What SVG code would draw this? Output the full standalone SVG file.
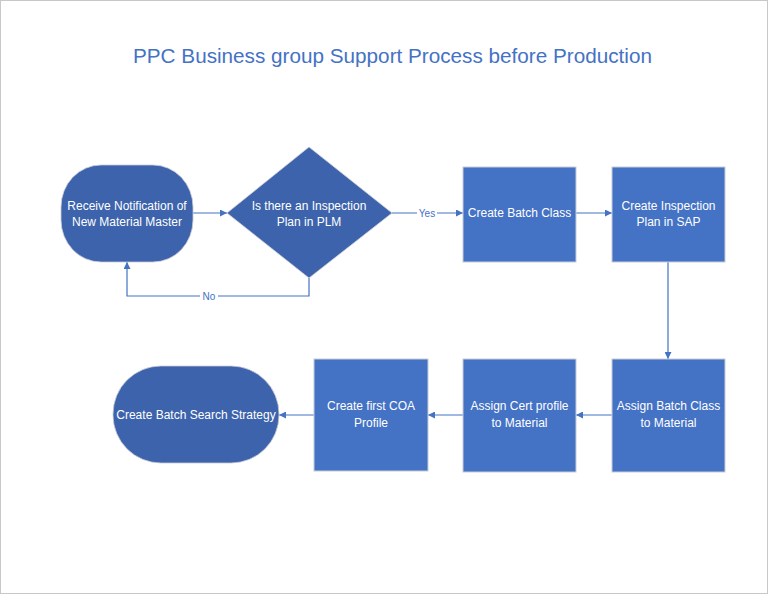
<svg xmlns="http://www.w3.org/2000/svg" width="768" height="594" viewBox="0 0 768 594">
<defs>
<style>
.frame{fill:#fff;stroke:#C8C8C8;stroke-width:1}
.proc{fill:#4472C4;stroke:#C9CCD4;stroke-width:1}
.term{fill:#3C63AB;stroke:#C9CCD4;stroke-width:0.8}
.dec{fill:#3C63AB;stroke:#C9CCD4;stroke-width:0.8}
.lbl{font-family:"Liberation Sans",Arial,sans-serif;font-size:12px;fill:#fff;text-anchor:middle}
.title{font-family:"Liberation Sans",Arial,sans-serif;font-size:21px;fill:#4472C4}
.conn{fill:none;stroke:#4472C4;stroke-width:1.2}
.clbl{font-family:"Liberation Sans",Arial,sans-serif;font-size:10px;fill:#4472C4;text-anchor:middle}
</style>
<marker id="arr" viewBox="0 0 10 10" refX="10" refY="5" markerWidth="7" markerHeight="7" markerUnits="userSpaceOnUse" orient="auto">
<path d="M0,0 L10,5 L0,10 z" fill="#4472C4"/>
</marker>
</defs>
<rect class="frame" x="0.5" y="0.5" width="767" height="593"/>
<text class="title" x="133" y="63" textLength="519" lengthAdjust="spacingAndGlyphs">PPC Business group Support Process before Production</text>

<g id="connectors">
<path class="conn" d="M193,213 L227,213" marker-end="url(#arr)"/>
<path class="conn" d="M392,213 L463,213" marker-end="url(#arr)"/>
<rect x="417" y="207" width="20" height="12" fill="#fff"/>
<text class="clbl" x="427" y="217">Yes</text>
<path class="conn" d="M309,278 L309,296 L127,296 L127,262" marker-end="url(#arr)"/>
<rect x="200" y="290" width="18" height="12" fill="#fff"/>
<text class="clbl" x="209" y="300">No</text>
<path class="conn" d="M576,213 L612,213" marker-end="url(#arr)"/>
<path class="conn" d="M668,262 L668,359" marker-end="url(#arr)"/>
<path class="conn" d="M612,415 L576,415" marker-end="url(#arr)"/>
<path class="conn" d="M463,415 L428,415" marker-end="url(#arr)"/>
<path class="conn" d="M314,415 L279,415" marker-end="url(#arr)"/>
</g>

<g id="receive">
<rect class="term" x="61" y="165" width="132" height="97" rx="40" ry="42"/>
<text class="lbl" x="127" y="210">Receive Notification of</text>
<text class="lbl" x="127" y="226">New Material Master</text>
</g>
<g id="decision">
<polygon class="dec" points="309,147 392,213 309,278 227,213"/>
<text class="lbl" x="309" y="210">Is there an Inspection</text>
<text class="lbl" x="309" y="226">Plan in PLM</text>
</g>
<g id="batchclass">
<rect class="proc" x="463" y="167" width="113" height="95"/>
<text class="lbl" x="519.5" y="217">Create Batch Class</text>
</g>
<g id="inspplan">
<rect class="proc" x="612" y="167" width="113" height="95"/>
<text class="lbl" x="668.5" y="210">Create Inspection</text>
<text class="lbl" x="668.5" y="226">Plan in SAP</text>
</g>
<g id="assignbatch">
<rect class="proc" x="612" y="359" width="113" height="113"/>
<text class="lbl" x="668.5" y="410">Assign Batch Class</text>
<text class="lbl" x="668.5" y="427">to Material</text>
</g>
<g id="assigncert">
<rect class="proc" x="463" y="359" width="113" height="113"/>
<text class="lbl" x="519.5" y="410">Assign Cert profile</text>
<text class="lbl" x="519.5" y="427">to Material</text>
</g>
<g id="coa">
<rect class="proc" x="314" y="359" width="114" height="112"/>
<text class="lbl" x="371" y="410">Create first COA</text>
<text class="lbl" x="371" y="427">Profile</text>
</g>
<g id="strategy">
<rect class="term" x="113" y="366" width="166" height="97" rx="48" ry="48"/>
<text class="lbl" x="196" y="419">Create Batch Search Strategy</text>
</g>
</svg>
